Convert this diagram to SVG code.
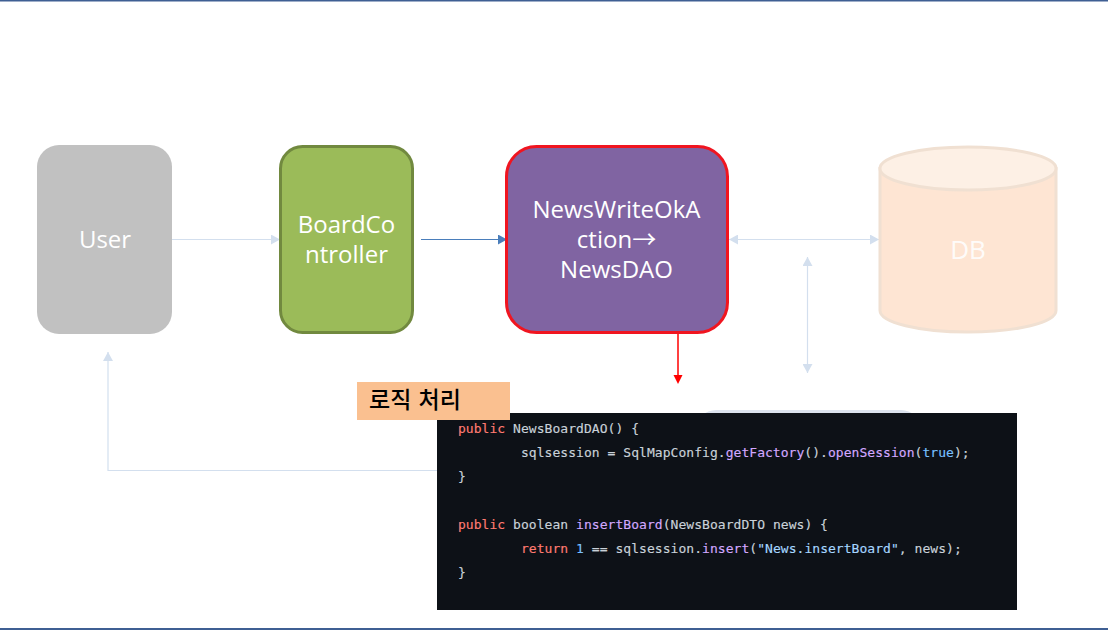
<svg xmlns="http://www.w3.org/2000/svg" width="1108" height="630" viewBox="0 0 1108 630">
<style>
.n{font-family:"Open Sans","Noto Sans","Liberation Sans",sans-serif;font-size:24px;fill:#fff;text-anchor:middle}
.c{font-family:"DejaVu Sans Mono","Liberation Mono",monospace;font-size:13px;letter-spacing:.045px;fill:#c9d1d9;white-space:pre;stroke:#c9d1d9;stroke-width:.15}
.k{fill:#ff7b72;stroke:#ff7b72}.f{fill:#d2a8ff;stroke:#d2a8ff}.b{fill:#79c0ff;stroke:#79c0ff}.s{fill:#a5d6ff;stroke:#a5d6ff}
.l{fill:none;stroke:#d3dfee;stroke-width:1.2}
</style>
<defs>
<marker id="al" markerUnits="userSpaceOnUse" markerWidth="9" markerHeight="10" refX="9" refY="5" orient="auto-start-reverse"><path d="M0 0L9 5L0 10Z" fill="#d3dfee"/></marker>
<marker id="ab" markerUnits="userSpaceOnUse" markerWidth="9" markerHeight="10" refX="9" refY="5" orient="auto"><path d="M0 0L9 5L0 10Z" fill="#4a7ebb"/></marker>
</defs>
<rect width="1108" height="630" fill="#fff"/>
<rect x="0" y="0" width="1108" height="1.5" fill="#3f5f93"/>
<rect x="0" y="628" width="1108" height="2" fill="#3f5f93"/>
<g id="connectors">
<path class="l" d="M172 239.500H280" marker-end="url(#al)"/>
<path d="M421 239.500H507" fill="none" stroke="#4a7ebb" stroke-width="1" marker-end="url(#ab)"/>
<path class="l" d="M729 239.500H879" marker-start="url(#al)" marker-end="url(#al)"/>
<path class="l" d="M807.500 257V373" marker-start="url(#al)" marker-end="url(#al)"/>
<path class="l" d="M437 470.500H108V352" marker-end="url(#al)"/>
<path d="M678 333V379" fill="none" stroke="#f00" stroke-width="1.500"/>
<path d="M673.500 375H682.500L678 384Z" fill="#f00"/>
</g>
<g id="user"><rect x="37" y="145" width="135" height="189" rx="22" fill="#c1c1c1"/><text class="n" x="105" y="248">User</text></g>
<g id="boardcontroller"><rect x="280.500" y="146.500" width="132" height="186" rx="22" fill="#9bbb59" stroke="#71893f" stroke-width="3"/><text class="n" x="346.500" y="233">BoardCo</text><text class="n" x="346.500" y="263">ntroller</text></g>
<g id="newswriteokaction"><rect x="506.500" y="146.500" width="221" height="186" rx="30" fill="#8064a2" stroke="#f01520" stroke-width="3"/><text class="n" x="616.500" y="218">NewsWriteOkA</text><text class="n" x="616.500" y="248">ction<tspan font-family="'Noto Sans CJK KR',sans-serif">→</tspan></text><text class="n" x="616.500" y="278">NewsDAO</text></g>
<g id="db"><path d="M880 168.500V310.500C880 322.500 919 332 968 332S1056 322.500 1056 310.500V168.500Z" fill="#fee5d3" stroke="#f0e0d2" stroke-width="3"/><ellipse cx="968" cy="168.500" rx="88" ry="21.500" fill="#fdf0e5" stroke="#f0e0d2" stroke-width="3"/><text class="n" x="968" y="259" style="font-size:26px" fill-opacity=".9">DB</text></g>
<g id="hidden-node"><rect x="696" y="410" width="225" height="40" rx="20" fill="#dce3ee"/></g>
<g id="code"><rect x="437" y="413" width="580" height="197" fill="#0d1117"/>
<text class="c" x="458" y="432.500"><tspan class="k">public</tspan> NewsBoardDAO() {</text>
<text class="c" x="458" y="456.500">        sqlsession = SqlMapConfig.<tspan class="f">getFactory</tspan>().<tspan class="f">openSession</tspan>(<tspan class="b">true</tspan>);</text>
<text class="c" x="458" y="480.500">}</text>
<text class="c" x="458" y="528.500"><tspan class="k">public</tspan> boolean <tspan class="f">insertBoard</tspan>(NewsBoardDTO news) {</text>
<text class="c" x="458" y="552.500">        <tspan class="k">return</tspan> <tspan class="b">1</tspan> == sqlsession.<tspan class="f">insert</tspan>(<tspan class="s">"News.insertBoard"</tspan>, news);</text>
<text class="c" x="458" y="576.500">}</text>
</g>
<g id="logic-label"><rect x="357" y="382" width="153" height="38" fill="#fac090"/><text x="369" y="408" font-family="'Noto Sans CJK KR',sans-serif" font-size="23" font-weight="500" word-spacing="2" fill="#000">로직 처리</text></g>
</svg>
